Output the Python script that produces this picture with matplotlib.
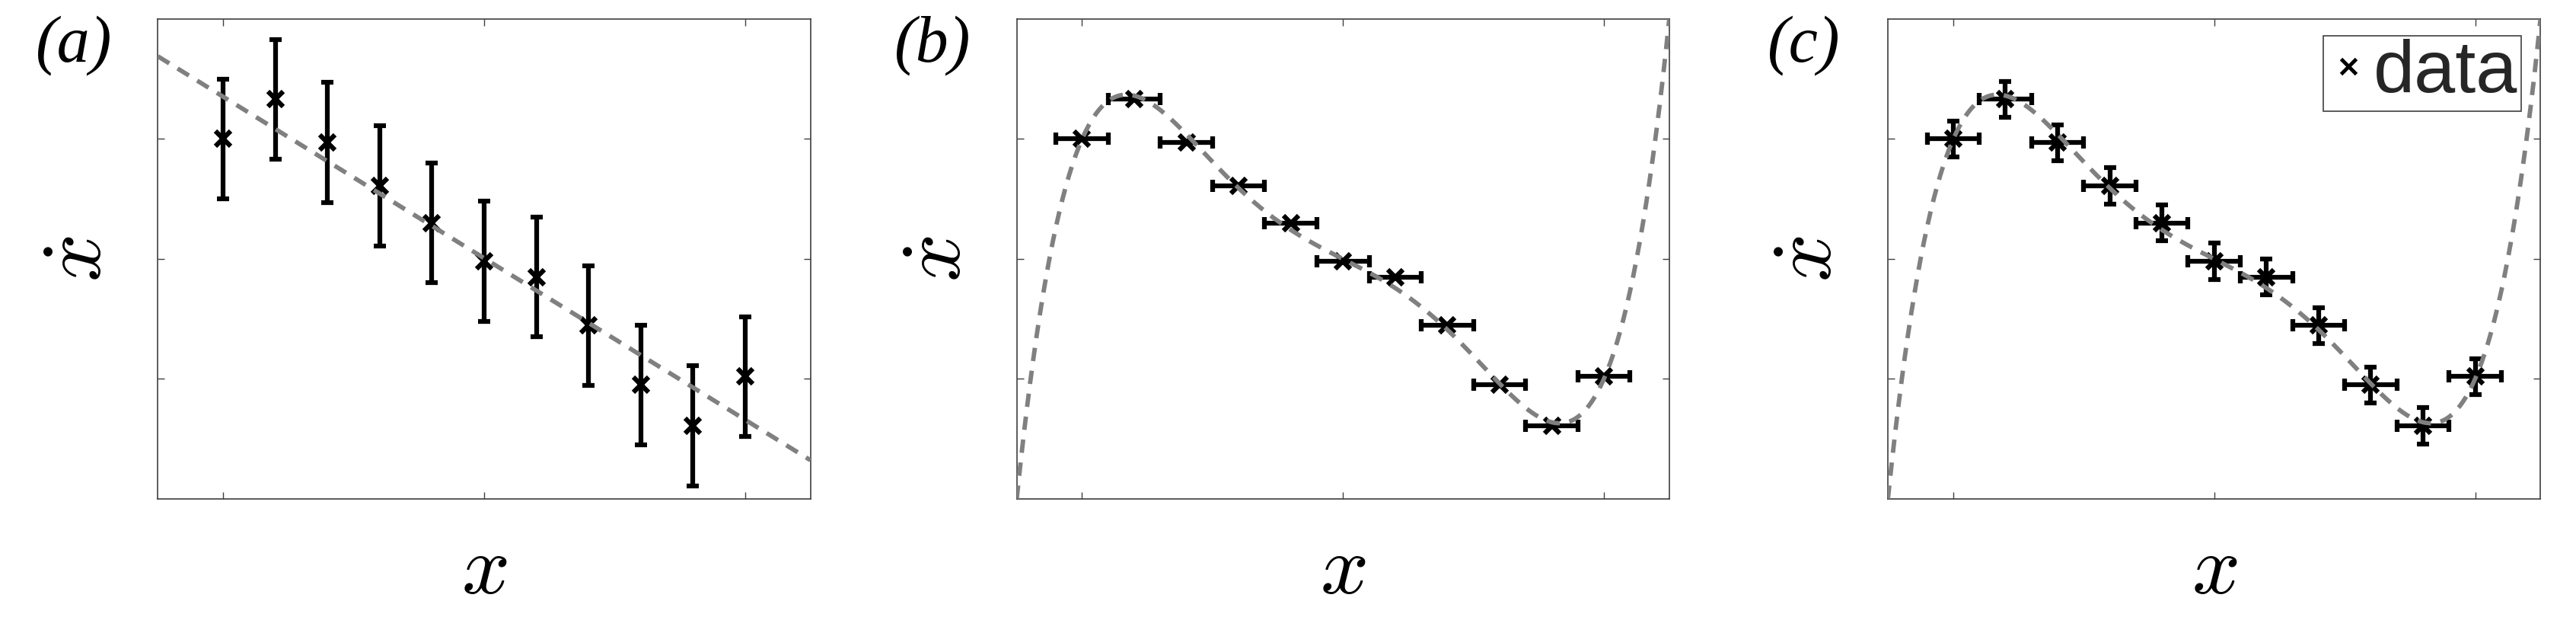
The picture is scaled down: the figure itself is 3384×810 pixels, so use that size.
import matplotlib
matplotlib.use('Agg')
from matplotlib import pyplot as plt
from matplotlib.lines import Line2D
import numpy as np

# measured points, same in all three panels
x_data = [-1.0, -0.8, -0.6, -0.4, -0.2, 0.0, 0.2, 0.4, 0.6, 0.8, 1.0]
xdot_data = [1.00, 1.33, 0.97, 0.61, 0.30, -0.02, -0.15, -0.555, -1.05, -1.39, -0.98]
xdot_err_large = 0.5   # panel (a)
x_err = 0.1            # panels (b), (c)
xdot_err_small = 0.15  # panel (c)

# quintic model shown in (b) and (c), highest power first
model_coefs = [2.886, 0.0, -2.779, 0.0, -1.105, 0.0]
panel_labels = ['(a)', '(b)', '(c)']

plt.rcParams['mathtext.fontset'] = 'cm'

fig = plt.figure(figsize=(33.84, 8.1), dpi=100)
lefts = [0.0613, 0.3947, 0.7329]
axes = [fig.add_axes([l, 0.1914, 0.2533, 0.7778]) for l in lefts]

xx = np.linspace(-1.25, 1.25, 400)
lin_fit = np.polyfit(x_data, xdot_data, 1)

eb_style = dict(fmt='x', color='k', ms=15, mew=4.5, elinewidth=4.5,
                capsize=6, capthick=5, zorder=2)
line_style = dict(color='#808080', lw=4.2, ls=(0, (3, 2.2)), zorder=3)

ax = axes[0]
ax.errorbar(x_data, xdot_data, yerr=xdot_err_large, **eb_style)
ax.plot(xx, np.polyval(lin_fit, xx), **line_style)

ax = axes[1]
ax.errorbar(x_data, xdot_data, xerr=x_err, **eb_style)
ax.plot(xx, np.polyval(model_coefs, xx), **line_style)

ax = axes[2]
ax.errorbar(x_data, xdot_data, xerr=x_err, yerr=xdot_err_small, **eb_style)
ax.plot(xx, np.polyval(model_coefs, xx), **line_style)

for ax, lab in zip(axes, panel_labels):
    ax.set_xlim(-1.25, 1.25)
    ax.set_ylim(-2, 2)
    ax.set_xticks([-1, 0, 1])
    ax.set_yticks([-1, 0, 1])
    ax.tick_params(direction='in', length=6.5, width=1, color='#404040',
                   top=True, right=True, labelbottom=False, labelleft=False)
    for sp in ax.spines.values():
        sp.set_color('#404040')
        sp.set_linewidth(1.2)
    ax.set_xlabel('$x$', fontsize=80)
    ax.xaxis.set_label_coords(0.5, -0.148)
    ax.xaxis.label.set_va('center')
    ax.set_ylabel(r'$\dot{x}$', fontsize=80)
    ax.yaxis.set_label_coords(-0.122, 0.5)
    ax.yaxis.label.set_va('center')
    ax.text(-0.129, 0.945, lab, transform=ax.transAxes, ha='center', va='center',
            fontsize=62, family='Liberation Serif', style='italic')

handle = Line2D([], [], ls='none', marker='x', color='k', ms=15, mew=3.5)
leg = axes[2].legend([handle], ['data'], loc='upper right',
                     bbox_to_anchor=(0.9708, 0.9657), borderaxespad=0,
                     prop={'family': 'Liberation Sans', 'size': 70},
                     frameon=True, fancybox=False, edgecolor='#404040', framealpha=1,
                     borderpad=0.05, handlelength=0.58, handletextpad=0.05,
                     labelcolor='#262626')
leg.get_frame().set_linewidth(1.2)

fig.savefig('out.png', dpi=100)
